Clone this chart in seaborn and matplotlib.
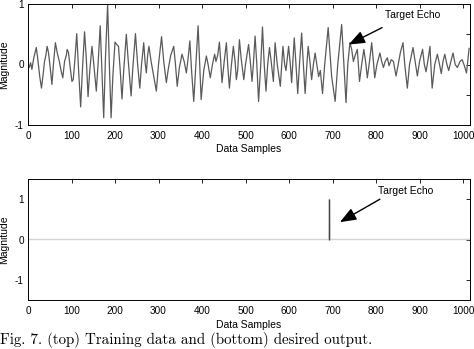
import numpy as np
import pandas as pd
import matplotlib
matplotlib.use("Agg")
import matplotlib.pyplot as plt
import seaborn as sns

# Training record: sample index and magnitude at the turning points of the trace
train_sample = [
    0, 3, 6, 9, 13, 17, 19, 22, 27, 31, 35, 38, 41, 44, 47, 51, 55, 59, 63, 67,
    72, 76, 80, 84, 88, 90, 93, 97, 101, 104, 108, 112, 116, 121, 125, 130, 134, 138, 142, 147,
    150, 154, 157, 161, 166, 170, 174, 178, 183, 187, 191, 195, 200, 204, 208, 212, 216, 220, 226, 230,
    237, 241, 247, 252, 257, 261, 266, 269, 272, 275, 278, 283, 289, 295, 300, 307, 312, 318, 323, 328,
    335, 339, 343, 348, 354, 359, 364, 368, 372, 376, 381, 386, 391, 394, 398, 404, 410, 414, 419, 424,
    429, 432, 436, 440, 443, 446, 451, 456, 459, 463, 467, 472, 476, 479, 482, 486, 490, 496, 500, 507,
    511, 515, 518, 522, 526, 530, 535, 539, 543, 547, 551, 555, 559, 564, 568, 573, 580, 586, 590, 593,
    599, 603, 606, 612, 616, 620, 624, 629, 633, 637, 641, 644, 648, 652, 656, 660, 664, 668, 672, 677,
    682, 690, 694, 698, 706, 712, 721, 726, 731, 735, 740, 744, 748, 752, 757, 762, 767, 772, 776, 780,
    785, 790, 794, 797, 802, 809, 813, 817, 821, 826, 830, 835, 840, 846, 851, 856, 862, 866, 872, 877,
    885, 890, 895, 900, 907, 911, 915, 920, 924, 926, 929, 935, 941, 946, 950, 954, 958, 963, 967, 972,
    977, 982, 987, 993, 998, 1003, 1008, 1014,
]
train_magnitude = [
    0.02, -0.05, 0.03, -0.08, 0.10, 0.22, 0.28, 0.12, -0.20, -0.39, -0.15, 0.05, 0.15, 0.30, 0.20, -0.05, -0.33, 0.05, 0.36, 0.20,
    0.05, -0.10, -0.22, 0.05, 0.15, 0.25, 0.20, -0.05, -0.28, -0.25, 0.10, 0.51, -0.05, -0.70, -0.10, 0.54, 0.10, -0.53, -0.10, 0.30,
    0.10, -0.20, -0.44, 0.00, 0.64, -0.10, -0.88, 0.10, 0.99, 0.00, -0.88, -0.20, 0.37, 0.33, 0.30, -0.10, -0.57, -0.10, 0.50, 0.10,
    -0.52, -0.05, 0.51, 0.00, -0.39, 0.00, 0.36, 0.05, -0.14, 0.15, 0.30, 0.05, -0.20, -0.44, 0.00, 0.46, 0.05, -0.30, -0.05, 0.15,
    0.30, 0.00, -0.36, -0.05, 0.17, 0.05, -0.14, 0.10, 0.39, -0.10, -0.61, 0.00, 0.64, 0.10, -0.58, -0.10, 0.14, 0.00, -0.22, 0.00,
    0.17, 0.05, 0.15, 0.37, 0.05, -0.30, 0.05, 0.36, 0.00, -0.39, -0.05, 0.30, 0.05, -0.25, -0.10, 0.41, 0.10, -0.25, 0.00, 0.33,
    0.05, -0.28, 0.00, 0.47, 0.00, -0.61, 0.00, 0.62, 0.00, -0.44, 0.00, 0.28, 0.05, -0.28, 0.36, 0.00, -0.36, 0.30, 0.00, -0.10,
    0.30, 0.00, -0.30, 0.44, 0.00, -0.48, 0.00, 0.52, 0.00, -0.48, 0.00, 0.30, 0.05, -0.25, 0.00, 0.19, 0.00, -0.20, -0.10, -0.48,
    0.00, 0.61, 0.20, -0.20, -0.61, 0.00, 0.66, 0.00, -0.63, 0.00, 0.36, 0.25, 0.05, 0.15, 0.25, -0.28, 0.00, 0.25, 0.05, -0.22,
    0.05, 0.36, 0.05, -0.22, 0.00, 0.19, 0.05, -0.05, 0.05, 0.11, -0.02, 0.08, 0.05, -0.19, 0.00, 0.20, 0.36, 0.00, -0.39, 0.00,
    0.28, 0.05, -0.19, 0.05, 0.25, 0.00, -0.12, 0.10, 0.30, 0.00, -0.39, 0.00, 0.17, 0.00, -0.15, 0.05, 0.17, 0.00, -0.10, 0.05,
    0.19, 0.00, -0.05, 0.05, 0.08, -0.02, -0.14, 0.27,
]

# Desired network output: zero except at the echo sample
n_samples = 1016
echo_sample = 693
echo_value = 1.0

x_ticks = [0, 100, 200, 300, 400, 500, 600, 700, 800, 900, 1000]
top_y_ticks = [-1, -0.5, 0, 0.5, 1]
top_y_labels = ["-1", "", "0", "", "1"]
bottom_y_ticks = [-1, 0, 1]
bottom_y_labels = ["-1", "0", "1"]

caption = "Fig. 7. (top) Training data and (bottom) desired output."

sns.set_theme(style="white")
plt.rcParams["font.family"] = ["Liberation Sans", "DejaVu Sans"]
plt.rcParams["axes.unicode_minus"] = False

train = pd.DataFrame({"sample": train_sample, "magnitude": train_magnitude})
desired_values = np.zeros(n_samples)
desired_values[echo_sample] = echo_value
desired = pd.DataFrame({"sample": np.arange(n_samples), "magnitude": desired_values})

W, H = 474, 349
fig = plt.figure(figsize=(W / 100, H / 100), dpi=100)
ax1 = fig.add_axes([28 / W, 1 - 125 / H, 442 / W, 121 / H])
ax2 = fig.add_axes([28 / W, 1 - 300 / H, 442 / W, 121 / H])

sns.lineplot(data=train, x="sample", y="magnitude", ax=ax1,
             color="#5a5a5a", linewidth=0.9, estimator=None, sort=False)
for ln in ax1.lines:
    ln.set_solid_joinstyle("round")

sns.lineplot(data=desired, x="sample", y="magnitude", ax=ax2,
             color="#d4d4d4", linewidth=1.0, estimator=None, sort=False)
spikes = desired[desired["magnitude"] != 0]
ax2.vlines(spikes["sample"], 0, spikes["magnitude"], color="#444444", linewidth=1.0)

arrow = dict(arrowstyle="-|>,head_length=0.9,head_width=0.35", color="black",
             lw=1.0, mutation_scale=11, shrinkA=0, shrinkB=0)

for ax, yt, yl, ylim, xl_y in [
    (ax1, top_y_ticks, top_y_labels, (-1, 1), -0.157),
    (ax2, bottom_y_ticks, bottom_y_labels, (-1.5, 1.5), -0.163),
]:
    ax.set_xlim(0, n_samples)
    ax.set_ylim(*ylim)
    ax.set_xticks(x_ticks)
    ax.set_xticklabels([str(t) for t in x_ticks])
    ax.set_yticks(yt)
    ax.set_yticklabels(yl)
    ax.tick_params(direction="in", top=True, right=True, length=3, width=0.6,
                   color="black", labelsize=7.2, labelcolor="black")
    ax.tick_params(axis="x", pad=4)
    ax.tick_params(axis="y", pad=3)
    for s in ax.spines.values():
        s.set_color("black")
        s.set_linewidth(0.7)
    ax.set_xlabel("Data Samples", fontsize=7.5, color="black")
    ax.set_ylabel("Magnitude", fontsize=7.5, color="black")
    ax.xaxis.set_label_coords(0.5, xl_y)
    ax.yaxis.set_label_coords(-0.043, 0.5)
    ax.grid(False)

ax1.annotate("", xy=(737, 0.33), xytext=(814, 0.61), arrowprops=arrow)
ax1.text(885, 0.81, "Target Echo", ha="center", va="center", fontsize=7.5, color="black")

ax2.annotate("", xy=(717, 0.43), xytext=(809, 1.0), arrowprops=arrow)
ax2.text(869, 1.21, "Target Echo", ha="center", va="center", fontsize=7.5, color="black")

fig.text(0.0, 1 / H, caption, family=["cmr10", "DejaVu Serif"],
         fontsize=10.8, ha="left", va="bottom", color="black")

fig.savefig("out.png", dpi=100)
